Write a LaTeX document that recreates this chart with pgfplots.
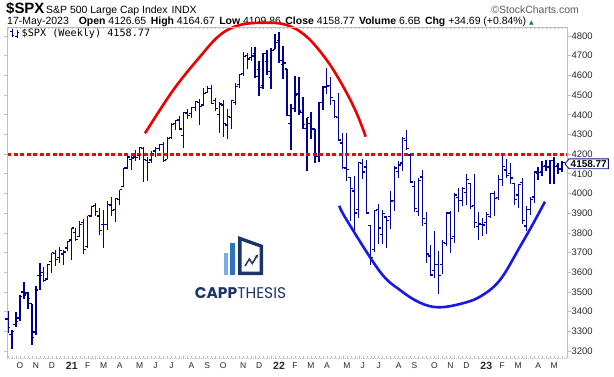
\documentclass[border=0pt]{standalone}
\usepackage{pgfplots}
\pgfplotsset{compat=1.18}
\usepackage{pgfplotstable}
\usepackage{fontspec}
\setmainfont{Liberation Sans}
\newfontfamily\monofont{DejaVu Sans Mono}
\newfontfamily\logofont{Poppins}
\newfontfamily\symfont{DejaVu Sans}
\usetikzlibrary{arrows.meta}
\definecolor{barblue}{RGB}{0,0,150}
\definecolor{arcred}{RGB}{235,0,0}
\definecolor{dotred}{RGB}{255,0,0}
\definecolor{arcblue}{RGB}{25,25,230}
\definecolor{boxgray}{RGB}{190,190,190}
\definecolor{labelgray}{RGB}{40,40,40}
\definecolor{tagnavy}{RGB}{10,20,120}
\definecolor{logonavy}{RGB}{28,52,104}
\definecolor{logolight}{RGB}{120,175,225}
\definecolor{logomid}{RGB}{45,115,195}
\definecolor{upgreen}{RGB}{0,140,60}
\pgfdeclareplotmark{otick}{\pgfpathmoveto{\pgfpoint{-2.5bp}{0bp}}\pgfpathlineto{\pgfpoint{0bp}{0bp}}\pgfusepathqstroke}
\pgfdeclareplotmark{ctick}{\pgfpathmoveto{\pgfpoint{0bp}{0bp}}\pgfpathlineto{\pgfpoint{2.5bp}{0bp}}\pgfusepathqstroke}
\pgfplotstableread{
x o h l c
0 3363 3402 3292 3319
1 3285 3306 3209 3298
2 3335 3397 3324 3348
3 3367 3486 3354 3477
4 3500 3550 3464 3484
5 3494 3502 3415 3465
6 3441 3441 3233 3270
7 3296 3529 3279 3510
8 3583 3646 3511 3585
9 3600 3628 3555 3558
10 3566 3644 3560 3638
11 3654 3699 3594 3699
12 3694 3712 3633 3663
13 3675 3726 3648 3709
14 3693 3711 3636 3703
15 3723 3760 3707 3756
16 3764 3827 3663 3825
17 3803 3823 3757 3768
18 3781 3861 3781 3841
19 3851 3870 3694 3714
20 3731 3887 3725 3887
21 3886 3937 3885 3934
22 3939 3950 3885 3907
23 3886 3928 3789 3811
24 3842 3914 3723 3842
25 3844 3960 3814 3943
26 3942 3983 3886 3913
27 3917 3978 3853 3975
28 3969 4020 3944 4020
29 4034 4130 4034 4129
30 4130 4191 4124 4185
31 4174 4194 4118 4180
32 4186 4219 4165 4181
33 4192 4238 4168 4233
34 4228 4238 4057 4174
35 4169 4187 4061 4156
36 4170 4214 4154 4204
37 4216 4234 4184 4230
38 4229 4249 4215 4247
39 4248 4262 4167 4166
40 4174 4287 4174 4281
41 4285 4356 4278 4352
42 4356 4372 4321 4370
43 4373 4394 4323 4327
44 4296 4415 4233 4412
45 4409 4430 4379 4395
46 4407 4440 4385 4437
47 4437 4470 4418 4468
48 4461 4480 4347 4442
49 4450 4537 4443 4509
50 4514 4546 4509 4535
51 4535 4549 4453 4459
52 4474 4486 4418 4433
53 4403 4465 4305 4455
54 4450 4476 4288 4357
55 4348 4429 4278 4391
56 4385 4475 4329 4471
57 4463 4559 4452 4545
58 4553 4608 4537 4605
59 4611 4718 4595 4697
60 4701 4714 4631 4683
61 4689 4743 4672 4698
62 4712 4744 4585 4595
63 4628 4672 4495 4538
64 4548 4713 4532 4712
65 4669 4731 4600 4620
66 4588 4740 4531 4726
67 4733 4808 4733 4766
68 4778 4819 4662 4677
69 4655 4749 4582 4663
70 4632 4632 4395 4398
71 4357 4453 4222 4432
72 4431 4595 4415 4500
73 4506 4590 4401 4419
74 4412 4489 4327 4349
75 4332 4385 4115 4385
76 4354 4416 4279 4329
77 4327 4327 4157 4204
78 4189 4465 4161 4463
79 4462 4546 4424 4543
80 4541 4637 4506 4546
81 4547 4593 4450 4488
82 4474 4474 4381 4392
83 4385 4513 4267 4272
84 4256 4308 4124 4132
85 4130 4307 4062 4123
86 4081 4082 3859 4024
87 4013 4091 3810 3901
88 3920 4160 3876 4158
89 4151 4177 4073 4109
90 4134 4168 3900 3901
91 3838 3838 3637 3675
92 3715 3914 3705 3912
93 3920 3946 3741 3825
94 3792 3918 3742 3899
95 3880 3880 3722 3863
96 3883 4013 3818 3962
97 3966 4141 3911 4130
98 4113 4167 4080 4145
99 4155 4288 4113 4280
100 4271 4325 4219 4228
101 4195 4203 4057 4058
102 4034 4062 3906 3924
103 3910 4077 3887 4067
104 4084 4119 3837 3873
105 3849 3907 3647 3693
106 3682 3736 3584 3586
107 3609 3807 3572 3640
108 3640 3706 3492 3583
109 3638 3762 3590 3753
110 3746 3906 3735 3901
111 3901 3912 3698 3771
112 3780 4003 3751 3993
113 3978 4028 3906 3965
114 3966 4034 3938 4026
115 4005 4100 3943 4071
116 4052 4052 3919 3934
117 3940 4101 3827 3852
118 3834 3906 3764 3845
119 3843 3878 3783 3840
120 3853 3906 3794 3895
121 3884 4003 3877 3999
122 3999 4015 3885 3973
123 3978 4095 3965 4071
124 4070 4195 4037 4136
125 4120 4176 4079 4090
126 4100 4156 4047 4079
127 4052 4052 3944 3970
128 3992 4048 3928 4046
129 4055 4078 3847 3861
130 3835 3937 3808 3917
131 3917 3981 3889 3971
132 3982 4110 3951 4109
133 4102 4133 4069 4105
134 4110 4164 4087 4138
135 4140 4170 4113 4134
136 4134 4170 4049 4169
137 4166 4186 4048 4136
138 4143 4154 4099 4124
139 4126.65 4164.67 4109.86 4158.77
}\spx
\begin{document}
\begin{tikzpicture}[x=1bp,y=1bp]
\useasboundingbox (0,0) rectangle (614,376);
% header
\node[anchor=base west, inner sep=0, font=\fontsize{15}{15}\selectfont\bfseries] at (6,363) {\$SPX};
\node[anchor=base west, inner sep=0, font=\fontsize{10.5}{10.5}\selectfont] at (46,363) {S\&P 500 Large Cap Index\hspace{4bp}INDX};
\node[anchor=base east, inner sep=0, font=\fontsize{10.5}{10.5}\selectfont, text=black!65] at (579,363) {©StockCharts.com};
\node[anchor=base west, inner sep=0, font=\fontsize{10.5}{10.5}\selectfont] at (7,352) {17-May-2023\hspace{10bp}\textbf{Open} 4126.65\hspace{4.5bp}\textbf{High} 4164.67\hspace{4.5bp}\textbf{Low} 4109.86\hspace{4.5bp}\textbf{Close} 4158.77\hspace{4.5bp}\textbf{Volume} 6.6B\hspace{4.5bp}\textbf{Chg} +34.69 (+0.84\%)\hspace{3bp}{\symfont\fontsize{6}{6}\selectfont\color{upgreen}▲}};
% inner label
\draw[barblue, line width=0.8bp] (12,347) -- (12,339) (10,345) -- (12,345) (12,341) -- (14,341);
\draw[barblue, line width=0.8bp] (17,346) -- (17,338.5) (15,340) -- (17,340) (17,344) -- (19,344);
\node[anchor=base west, inner sep=0, font=\monofont\fontsize{10.2}{10.2}\selectfont] at (21.5,339.3) {\$SPX (Weekly) 4158.77};
% logo
\fill[logolight] (224,101) rectangle (227.5,123);
\fill[logomid] (230,101) rectangle (235,133);
\fill[logonavy] (238,101) -- (238,140) -- (263,131) -- (263,101) -- cycle;
\fill[white] (241.6,104.5) -- (241.6,135.0) -- (259.6,128.6) -- (259.6,104.5) -- cycle;
\draw[logonavy, line width=1.5bp, -{Stealth[length=3.2bp,width=3.6bp]}] (245,110) -- (249.3,117) -- (252.3,112.5) -- (257.8,121.5);
\node[anchor=base, inner sep=0, text=logonavy, font=\logofont\fontsize{15.5}{15.5}\selectfont] at (240.5,78) {\textbf{CAPP}THESIS};
\begin{axis}[
  at={(7bp,18bp)}, anchor=south west,
  scale only axis, width=560bp, height=330.5bp,
  xmin=-0.25, xmax=140.25, ymin=3164.4, ymax=4843.2,
  clip=false,
  axis line style={draw=none},
  ytick={3200,3300,...,4800},
  yticklabel pos=right,
  ytick align=outside,
  major tick length=3.5bp,
  ytick style={draw=boxgray, line width=0.7bp},
  yticklabel style={font=\fontsize{9.5}{9.5}\selectfont, text=labelgray, inner sep=0.8bp},
  xtick={3,7,11,16,20,24,28,33,37,41,46,50,54,59,63,68,72,76,80,85,89,93,98,102,107,111,115,120,124,128,133,137},
  xticklabels={O,N,D,{\fontsize{10.5}{10.5}\selectfont\bfseries 21},F,M,A,M,J,J,A,S,O,N,D,{\fontsize{10.5}{10.5}\selectfont\bfseries 22},F,M,A,M,J,J,A,S,O,N,D,{\fontsize{10.5}{10.5}\selectfont\bfseries 23},F,M,A,M},
  xtick style={draw=none},
  xticklabel style={font=\fontsize{8.5}{8.5}\selectfont, text=labelgray, anchor=north, inner sep=0pt, yshift=-4.2bp},
  minor xtick={0,...,139},
  xtick align=inside,
  minor tick length=1.6bp,
  minor x tick style={draw=boxgray, line width=0.4bp},
  /pgf/number format/1000 sep={},
  /pgf/number format/assume math mode=true,
]
% high-low range as error bars around the close, close tick as mark
\addplot[barblue, only marks, mark=ctick, mark options={barblue, line width=1.25bp},
  error bars/.cd, y dir=both, y explicit, error mark=none,
  error bar style={barblue, line width=1.25bp}]
  table[x=x, y=c, y error plus expr=\thisrow{h}-\thisrow{c}, y error minus expr=\thisrow{c}-\thisrow{l}] {\spx};
\addplot[barblue, only marks, mark=otick, mark options={barblue, line width=1.25bp}] table[x=x, y=o] {\spx};
\addplot[dotred, line width=3bp, dash pattern=on 4bp off 2.5bp] coordinates {(-0.25,4200) (140.25,4200)};
\addplot[arcred, line width=2.6bp, smooth, tension=0.6] coordinates {
(34.37,4305.8) (41.47,4525.7) (48.17,4694.9) (53.19,4805.1) (58.20,4855.9) (64.48,4867.6) (69.92,4855.9) (74.94,4796.4) (79.95,4678.1) (84.12,4542.5) (87.48,4407.4) (89.74,4288.5)};
\addplot[arcblue, line width=2.6bp, smooth, tension=0.6] coordinates {
(83.12,3938) (84.97,3865.4) (93.33,3602.8) (98.34,3509.8) (103.36,3445.3) (107.95,3422.0) (113.40,3438.7) (118.41,3475.8) (123.43,3560.6) (128.45,3729.8) (131.79,3848.6) (134.72,3958.3)};
\draw[boxgray, line width=0.8bp] (rel axis cs:0,0) -- (rel axis cs:0,1) -- (rel axis cs:1,1) -- (rel axis cs:1,0);
\draw[boxgray, line width=0.8bp, densely dotted] (rel axis cs:0,0) -- (rel axis cs:1,0);
\node[fill=white, inner xsep=1.5bp, inner ysep=0bp, minimum height=9.5bp, font=\fontsize{10}{10}\selectfont\bfseries, anchor=west, xshift=2bp, yshift=-1.6bp] (tag) at (axis cs:140.25,4158.77) {4158.77};
\fill[white] (tag.north west) -- ([xshift=-4bp]tag.west) -- (tag.south west) -- cycle;
\draw[tagnavy, line width=0.9bp] (tag.north west) -- (tag.north east) -- (tag.south east) -- (tag.south west) -- ([xshift=-4bp]tag.west) -- cycle;
\end{axis}
\end{tikzpicture}
\end{document}
